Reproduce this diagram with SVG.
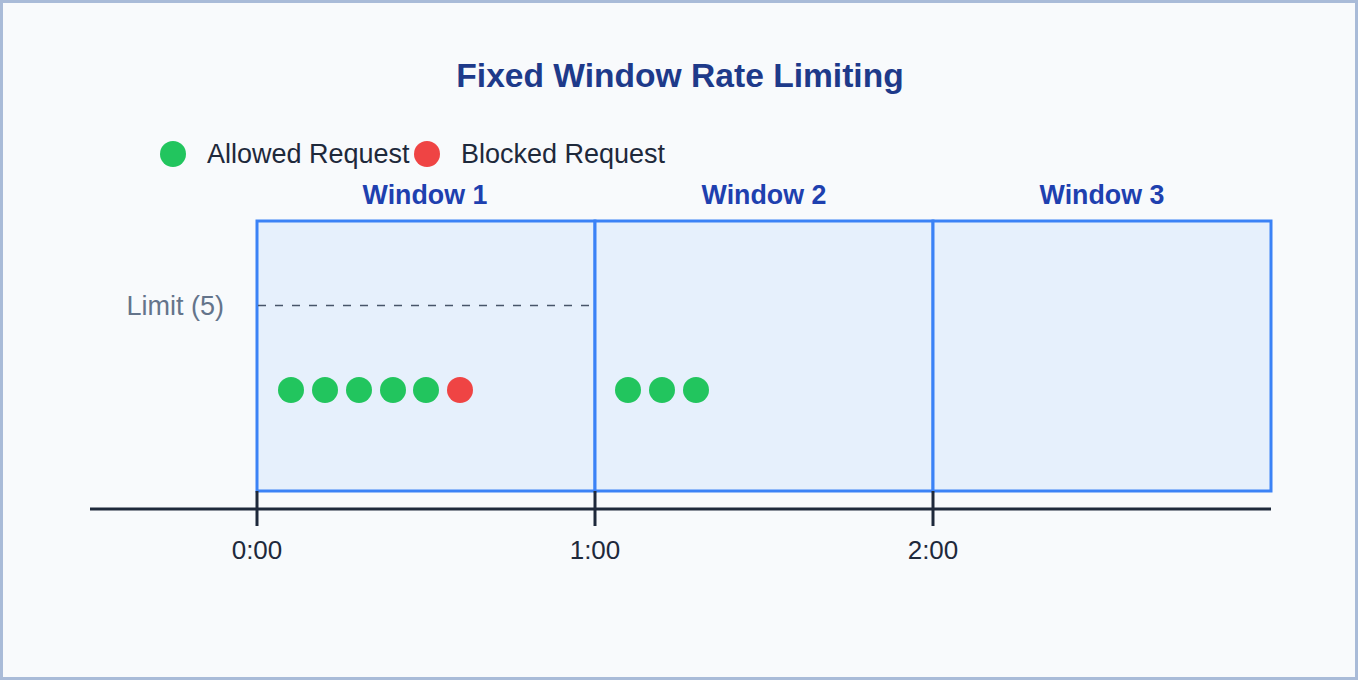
<svg xmlns="http://www.w3.org/2000/svg" width="1358" height="680" viewBox="0 0 1358 680">
<style>
.title{font-family:"Liberation Sans",Arial,sans-serif;font-weight:bold;font-size:33.6px;fill:#1e3a8a;text-anchor:middle}
.wlabel{font-family:"Liberation Sans",Arial,sans-serif;font-weight:bold;font-size:26.8px;fill:#1e40af;text-anchor:middle}
.legend{font-family:"Liberation Sans",Arial,sans-serif;font-size:27px;fill:#1e293b}
.tick{font-family:"Liberation Sans",Arial,sans-serif;font-size:26px;fill:#1e293b;text-anchor:middle}
.limit{font-family:"Liberation Sans",Arial,sans-serif;font-size:27px;fill:#64748b;text-anchor:end}
.win{fill:#e6f0fc;stroke:#3b82f6;stroke-width:3}
.ok{fill:#22c55e}
.no{fill:#ef4444}
.axis{stroke:#1e293b;stroke-width:3;fill:none}
</style>
<rect x="1.5" y="1.5" width="1355" height="677" fill="#f8fafc" stroke="#a9bbd8" stroke-width="3"/>
<text class="title" x="680" y="87">Fixed Window Rate Limiting</text>
<g id="legend">
<circle class="ok" cx="173" cy="154" r="13"/>
<text class="legend" x="207" y="163">Allowed Request</text>
<circle class="no" cx="427" cy="154" r="13"/>
<text class="legend" x="461" y="163">Blocked Request</text>
</g>
<g id="window1">
<rect class="win" x="257" y="221" width="338" height="270"/>
<text class="wlabel" x="425" y="204">Window 1</text>
</g>
<g id="window2">
<rect class="win" x="595" y="221" width="338" height="270"/>
<text class="wlabel" x="764" y="204">Window 2</text>
</g>
<g id="window3">
<rect class="win" x="933" y="221" width="338" height="270"/>
<text class="wlabel" x="1102" y="204">Window 3</text>
</g>
<g id="limit">
<line x1="258" y1="305.5" x2="592" y2="305.5" stroke="#475569" stroke-width="1.5" stroke-dasharray="8,9"/>
<text class="limit" x="224" y="315">Limit (5)</text>
</g>
<g id="requests">
<circle class="ok" cx="291" cy="390" r="13"/>
<circle class="ok" cx="325" cy="390" r="13"/>
<circle class="ok" cx="359" cy="390" r="13"/>
<circle class="ok" cx="393" cy="390" r="13"/>
<circle class="ok" cx="426" cy="390" r="13"/>
<circle class="no" cx="460" cy="390" r="13"/>
<circle class="ok" cx="628" cy="390" r="13"/>
<circle class="ok" cx="662" cy="390" r="13"/>
<circle class="ok" cx="696" cy="390" r="13"/>
</g>
<g id="connectors">
<line class="axis" x1="90" y1="509" x2="1271" y2="509"/>
<line class="axis" x1="257" y1="491" x2="257" y2="526"/>
<line class="axis" x1="595" y1="491" x2="595" y2="526"/>
<line class="axis" x1="933" y1="491" x2="933" y2="526"/>
</g>
<g id="ticks">
<text class="tick" x="257" y="559">0:00</text>
<text class="tick" x="595" y="559">1:00</text>
<text class="tick" x="933" y="559">2:00</text>
</g>
</svg>
